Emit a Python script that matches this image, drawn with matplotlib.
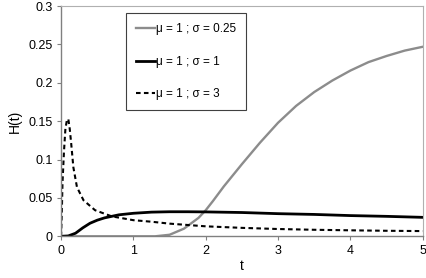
import matplotlib

matplotlib.use("Agg")
import matplotlib.pyplot as plt

plt.rcParams["font.family"] = ["Liberation Sans", "DejaVu Sans"]

# sigma = 0.25
t_a = [0.0, 1.0, 1.3, 1.5, 1.7, 1.9, 2.0, 2.1, 2.25, 2.5, 2.75, 3.0, 3.25, 3.5,
       3.75, 4.0, 4.25, 4.5, 4.75, 5.0]
h_a = [0.0, 0.0, 0.0, 0.002, 0.01, 0.024, 0.034, 0.046, 0.065, 0.094, 0.122,
       0.148, 0.170, 0.188, 0.203, 0.216, 0.227, 0.235, 0.242, 0.247]

# sigma = 1
t_b = [0.0, 0.1, 0.2, 0.3, 0.4, 0.5, 0.6, 0.7, 0.8, 1.0, 1.25, 1.5, 1.75, 2.0,
       2.5, 3.0, 3.5, 4.0, 4.5, 5.0]
h_b = [0.0, 0.0005, 0.004, 0.011, 0.017, 0.021, 0.024, 0.026, 0.028, 0.030,
       0.0315, 0.032, 0.032, 0.0318, 0.031, 0.0295, 0.0285, 0.027, 0.026, 0.0247]

# sigma = 3
t_c = [0.0, 0.01, 0.02, 0.04, 0.06, 0.08, 0.1, 0.12, 0.14, 0.17, 0.22, 0.31,
       0.47, 0.7, 1.0, 1.25, 1.5, 2.0, 2.5, 3.0, 3.5, 4.0, 4.5, 5.0]
h_c = [0.0, 0.03, 0.07, 0.11, 0.14, 0.151, 0.153, 0.14, 0.121, 0.090, 0.064,
       0.047, 0.034, 0.026, 0.021, 0.019, 0.0165, 0.013, 0.011, 0.0095, 0.0085,
       0.0078, 0.0072, 0.0068]

labels = ["μ = 1 ; σ = 0.25", "μ = 1 ; σ = 1", "μ = 1 ; σ = 3"]
x_ticks = [0, 1, 2, 3, 4, 5]
y_ticks = [0, 0.05, 0.1, 0.15, 0.2, 0.25, 0.3]
y_tick_labels = ["0", "0.05", "0.1", "0.15", "0.2", "0.25", "0.3"]

fig = plt.figure(figsize=(4.27, 2.78), dpi=100)
ax = fig.add_axes([0.143, 0.150, 0.847, 0.828])

ax.plot(t_a, h_a, color="#8c8c8c", lw=1.7, label=labels[0])
ax.plot(t_b, h_b, color="black", lw=2.0, label=labels[1])
ax.plot(t_c, h_c, color="black", lw=1.5, ls=(0, (2.2, 1.6)), label=labels[2])

ax.set_xlim(0, 5)
ax.set_ylim(0, 0.3)
ax.set_xticks(x_ticks)
ax.set_yticks(y_ticks)
ax.set_yticklabels(y_tick_labels)
ax.tick_params(labelsize=9, length=3, width=0.8, color="#808080", pad=3)
for side in ["left", "bottom"]:
    ax.spines[side].set_color("#808080")
    ax.spines[side].set_linewidth(1.0)
for side in ["top", "right"]:
    ax.spines[side].set_color("#b0b0b0")
    ax.spines[side].set_linewidth(0.8)

ax.set_xlabel("t", fontsize=10, labelpad=2)
ax.set_ylabel("H(t)", fontsize=10, labelpad=5)

leg = ax.legend(loc="upper left", bbox_to_anchor=(0.18, 0.97), fontsize=8.5,
                frameon=True, fancybox=False, edgecolor="#404040",
                framealpha=1, labelspacing=1.75, handlelength=1.6,
                handletextpad=0.1, borderpad=0.85, borderaxespad=0)
leg.get_frame().set_linewidth(0.8)

fig.savefig("out.png", dpi=100)
